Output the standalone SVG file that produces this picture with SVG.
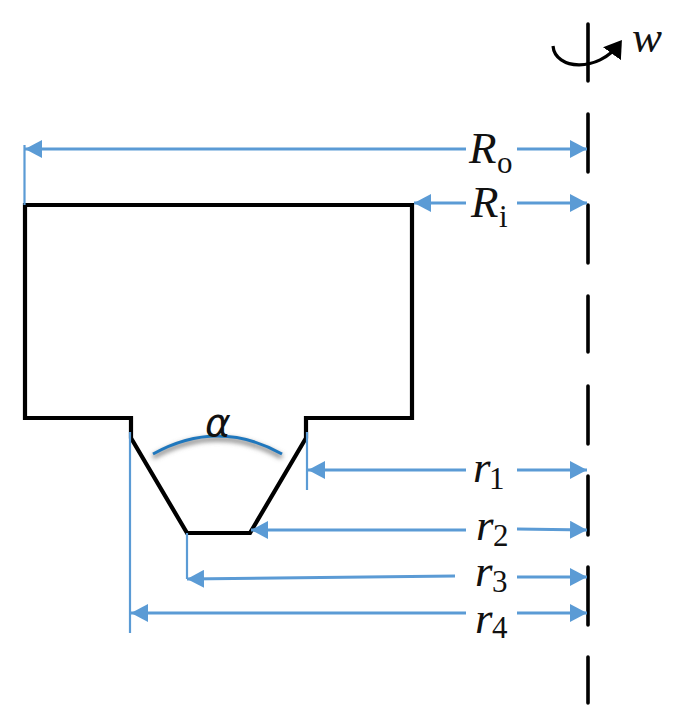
<svg xmlns="http://www.w3.org/2000/svg" width="677" height="714" viewBox="0 0 677 714">
<style>
.dim{fill:none;stroke:#5b9bd5;stroke-width:3}
.ext{fill:none;stroke:#5b9bd5;stroke-width:2.2}
.axis{fill:none;stroke:#000;stroke-width:3.6;stroke-linecap:round}
.t{font-family:"Liberation Serif",serif;fill:#111}
.v{font-size:45px;font-style:italic}
.s{font-size:31px}
</style>
<defs>
<marker id="ah" markerUnits="userSpaceOnUse" markerWidth="18" markerHeight="18" refX="17" refY="9" orient="auto-start-reverse"><path d="M0 0L17 9L0 18Z" fill="#5b9bd5"/></marker>
<marker id="bk" markerUnits="userSpaceOnUse" markerWidth="18" markerHeight="22" refX="12" refY="11" orient="auto"><path d="M0 0L17 11L0 22Z" fill="#000"/></marker>
<filter id="sh" x="-10%" y="-60%" width="120%" height="220%"><feGaussianBlur stdDeviation="2.4"/></filter>
</defs>
<g id="axis">
<path class="axis" d="M588 24V81M588 114V172M588 205V263M588 296V352M588 386V444M588 476V535M588 567V625M588 657V703"/>
</g>
<g id="rotation">
<path d="M553 46C555 70 598 73 619 44" fill="none" stroke="#000" stroke-width="3.2" marker-end="url(#bk)"/>
<text class="t" x="632" y="52" font-size="45" font-style="italic">w</text>
</g>
<g id="profile">
<path d="M25 205H412V418H306V438L250 533H187L131 438V418H25Z" fill="none" stroke="#000" stroke-width="4.200"/>
</g>
<g id="connectors">
<path class="ext" d="M24.500 145V205M130 432V633M187 533V579M307 432V490"/>
<path class="dim" d="M466 149H25" marker-end="url(#ah)"/>
<path class="dim" d="M517 149H587" marker-end="url(#ah)"/>
<path class="dim" d="M466 203H414" marker-end="url(#ah)"/>
<path class="dim" d="M517 203H587" marker-end="url(#ah)"/>
<path class="dim" d="M466 470H308" marker-end="url(#ah)"/>
<path class="dim" d="M517 470H587" marker-end="url(#ah)"/>
<path class="dim" d="M466 530H251" marker-end="url(#ah)"/>
<path class="dim" d="M517 529L587 530" marker-end="url(#ah)"/>
<path class="dim" d="M455 576L187 579" marker-end="url(#ah)"/>
<path class="dim" d="M517 577H587" marker-end="url(#ah)"/>
<path class="dim" d="M466 613H131" marker-end="url(#ah)"/>
<path class="dim" d="M517 613H587" marker-end="url(#ah)"/>
</g>
<g id="angle">
<path d="M153 457Q218 421 282 457" fill="none" stroke="#777" stroke-width="4" filter="url(#sh)"/>
<path d="M153 454Q218 418 282 454" fill="none" stroke="#1f77bd" stroke-width="3"/>
<text x="205" y="436" font-family="DejaVu Sans,sans-serif" font-size="39" font-style="italic" fill="#111">α</text>
</g>
<g id="labels">
<text class="t v" x="469" y="163">R</text><text class="t s" x="497" y="173">o</text>
<text class="t v" x="471" y="217">R</text><text class="t s" x="499" y="227">i</text>
<text class="t v" x="473" y="482">r</text><text class="t s" x="489" y="489">1</text>
<text class="t v" x="476" y="540">r</text><text class="t s" x="493" y="546">2</text>
<text class="t v" x="475" y="586">r</text><text class="t s" x="492" y="592">3</text>
<text class="t v" x="475" y="633">r</text><text class="t s" x="492" y="638">4</text>
</g>
</svg>
